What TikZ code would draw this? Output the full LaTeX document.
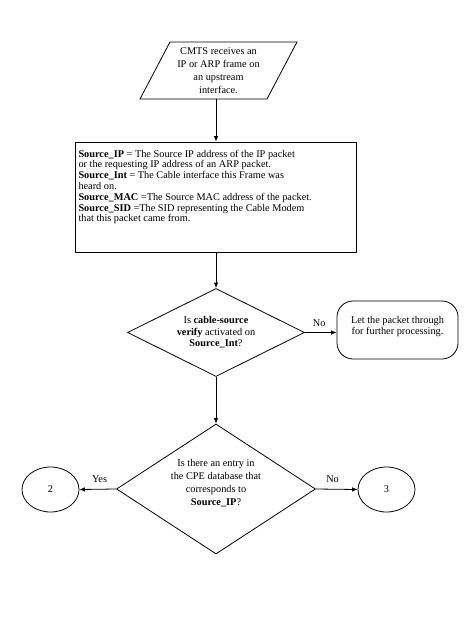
\documentclass[tikz,border=0pt]{standalone}
\usepackage{fontspec}
\setmainfont{Liberation Serif}
\usetikzlibrary{shapes.geometric,arrows.meta}
\begin{document}
\begin{tikzpicture}[x=1pt,y=-1pt,
  every node/.style={font=\fontsize{10.3}{13}\selectfont, text=black},
  line/.style={line width=0.8pt},
  arr/.style={line width=0.8pt,-{Latex[length=5.5pt,width=4.5pt]}},
  decision/.style={diamond, draw, line width=0.8pt, inner sep=0pt, align=center},
  proc/.style={draw, line width=0.8pt, inner sep=3pt},
  term/.style={draw, line width=0.8pt, rounded corners=16pt, inner sep=3pt},
  conn/.style={ellipse, draw, line width=0.8pt, minimum width=57pt, minimum height=45pt, inner sep=0pt},
  lbl/.style={inner sep=0pt}
]
\useasboundingbox[fill=white] (0,0) rectangle (474,632);

% input parallelogram
\draw[line] (140,99) -- (170,42) -- (297,42) -- (267,99) -- cycle;
\node[lbl, align=center] (in) at (218.5,71) {CMTS receives an\\IP or ARP frame on\\an upstream\\interface.};
\coordinate (inbot) at (216,99);

% definitions box
\node[proc] (def) at (216,197) {\parbox[c][104pt][t]{275pt}{\fontsize{10.3}{10.8}\selectfont
\rule{0pt}{12pt}\textbf{Source\_IP} = The Source IP address of the IP packet\\
or the requesting IP address of an ARP packet.\\
\textbf{Source\_Int} = The Cable interface this Frame was\\
heard on.\\
\textbf{Source\_MAC} =The Source MAC address of the packet.\\
\textbf{Source\_SID} =The SID representing the Cable Modem\\
that this packet came from.}};

% first decision
\node[decision, aspect=2, minimum width=177pt, minimum height=88pt,
      font=\fontsize{10.3}{11.5}\selectfont] (d1) at (216,332.5)
  {Is \textbf{cable-source}\\\textbf{verify} activated on\\\textbf{Source\_Int}?};

% terminal
\node[term] (let) at (397.5,330) {\parbox[c][52pt][t]{115pt}{\centering\fontsize{10.3}{11.8}\selectfont
\rule{0pt}{19pt}Let the packet through\\for further processing.}};

% second decision
\node[decision, aspect=1.5, minimum width=199pt, minimum height=130pt] (d2) at (216,489)
  {Is there an entry in\\the CPE database that\\corresponds to\\\textbf{Source\_IP}?\rule[-14pt]{0pt}{14pt}};

% connectors
\node[conn] (c2) at (50.5,489.5) {2};
\node[conn] (c3) at (386.5,489.5) {3};

\draw[arr] (inbot) -- (inbot |- def.north);
\draw[arr] (def.south) -- (d1.north);
\draw[arr] (d1.east) -- node[lbl, above=6pt, pos=0.45] (no1) {No} (d1.east -| let.west);
\draw[arr] (d1.south) -- (d2.north);
\draw[arr] (d2.west) -- node[lbl, above=6pt, pos=0.45] (yes) {Yes} (c2.east);
\draw[arr] (d2.east) -- node[lbl, above=6pt, pos=0.4] (no2) {No} (c3.west);
\end{tikzpicture}
\end{document}
